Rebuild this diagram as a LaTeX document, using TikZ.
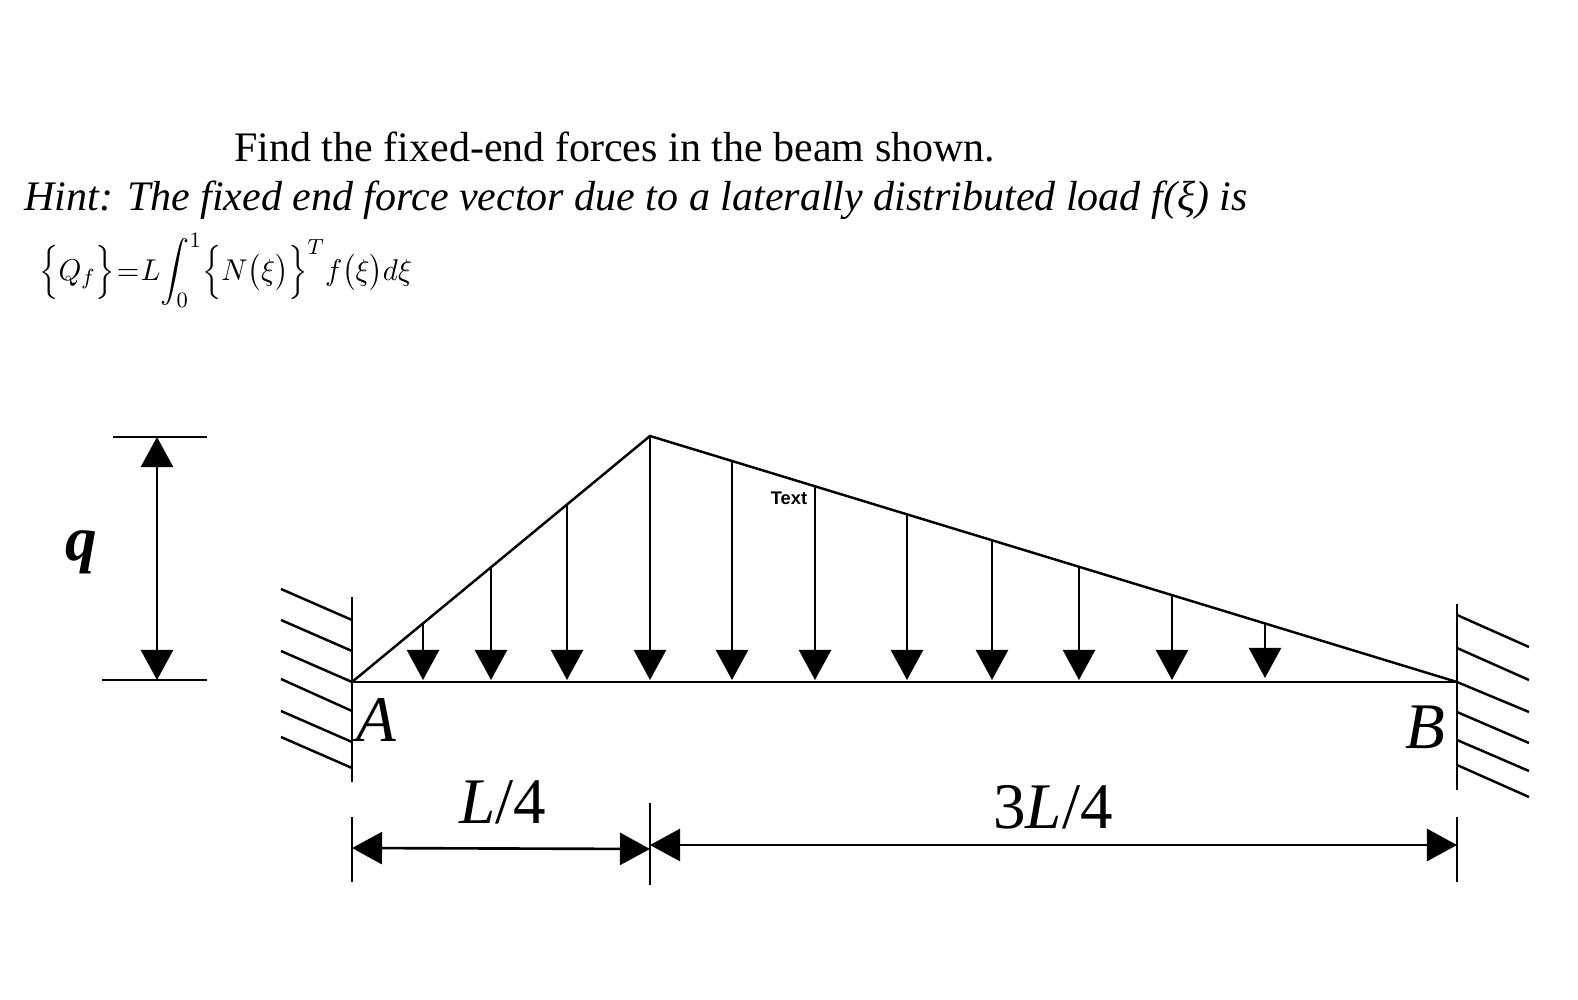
\documentclass[tikz,border=0pt]{standalone}
\usepackage{amsmath,amssymb}
\usepackage{fontspec}
\setmainfont{Liberation Serif}
\newfontfamily\labelfont{Liberation Sans}
\usetikzlibrary{arrows.meta}

\begin{document}
\begin{tikzpicture}[
  x = 0.01cm, y = -0.01cm,
  > = {Stealth[inset=0pt,length=0.3cm,width=0.32cm]},
  line width = 0.75pt,
  txt/.style = {anchor=base west, inner sep=0pt, font=\fontsize{11.95}{14}\selectfont},
  letter/.style = {inner sep=0pt, font=\fontsize{18.5}{22}\selectfont\itshape},
  dimtxt/.style = {inner sep=0pt, font=\fontsize{18.5}{22}\selectfont},
  hatch/.style = {line width=0.7pt},
  load/.style = {->, line width=0.65pt}]
  \useasboundingbox (0,0) rectangle (1578,1000);

  % Define text
  \node[txt] (title) at (233,161) {Find the fixed-end forces in the beam shown.};
  \node[txt] (hint) at (23,210) {\itshape Hint: The fixed end force vector due to a laterally distributed load f(ξ) is};
  \node[txt, font=\fontsize{11}{13}\selectfont] (formula) at (38,280) {\scalebox{0.75}[0.78]{$\thickmuskip=1mu\medmuskip=0mu\thinmuskip=0mu\displaystyle\Bigl\{Q_f\Bigr\}=L\!\int_0^1\!\Bigl\{N\!\bigl(\xi\bigr)\Bigr\}^{T} f\bigl(\xi\bigr)d\xi$}};

  % Define points
  \coordinate (A) at (352,682);
  \coordinate (P) at (650,436);
  \coordinate (B) at (1457,682);

  % Draw beam and load outline
  \draw (A) -- (B);
  \draw[line width=0.7pt] (A) -- (P) -- (B);

  % Draw walls
  \draw (352,597) -- (352,782);
  \draw[hatch] (281,589) -- (352,620);
  \draw[hatch] (281,620) -- (352,651);
  \draw[hatch] (281,651) -- (352,682);
  \draw[hatch] (281,679) -- (352,711);
  \draw[hatch] (281,711) -- (352,742);
  \draw[hatch] (281,737) -- (352,768);
  \draw (1457,604) -- (1457,790);
  \draw[hatch] (1457,615) -- (1529,647);
  \draw[hatch] (1457,648) -- (1529,680);
  \draw[hatch] (1457,682) -- (1529,712);
  \draw[hatch] (1457,712) -- (1529,743);
  \draw[hatch] (1457,740) -- (1529,771);
  \draw[hatch] (1457,765) -- (1529,797);

  % Draw load arrows
  \draw[load] (423,623) -- (423,680);
  \draw[load] (491,568) -- (491,680);
  \draw[load] (567,504) -- (567,680);
  \draw[load] (P) -- (650,680);
  \draw[load] (732,461) -- (732,680);
  \draw[load] (815,486) -- (815,680);
  \draw[load] (907,514) -- (907,680);
  \draw[load] (992,540) -- (992,680);
  \draw[load] (1079,567) -- (1079,680);
  \draw[load] (1172,595) -- (1172,680);
  \draw[load] (1265,623) -- (1265,678);

  % Draw q dimension
  \coordinate (qtop) at (157,437);
  \coordinate (qbot) at (157,680);
  \draw (113,437) -- (207,437);
  \draw (102,680) -- (207,680);
  \draw[<->] (qtop) -- (qbot);

  % Draw length dimensions
  \coordinate (d1) at (352,848);
  \coordinate (d2) at (650,849);
  \coordinate (d3) at (650,845);
  \coordinate (d4) at (1457,845);
  \draw (352,817) -- (352,882);
  \draw (650,803) -- (650,885);
  \draw (1457,817) -- (1457,882);
  \draw[<->] (d1) -- (d2);
  \draw[<->] (d3) -- (d4);

  % Define labels
  \node[letter, font=\fontsize{18}{20}\selectfont\itshape\bfseries] (q) at (81,552) {q};
  \node[letter] (a) at (376,720) {A};
  \node[letter] (b) at (1425,727) {B};
  \node[dimtxt] (quarter) at (503,802) {\textit{L}/4};
  \node[dimtxt] (threequarter) at (1053,807) {3\textit{L}/4};
  \node[inner sep=0pt, font=\fontsize{5.2}{6}\selectfont\labelfont\bfseries] (mark) at (789,498) {Text};
\end{tikzpicture}
\end{document}
